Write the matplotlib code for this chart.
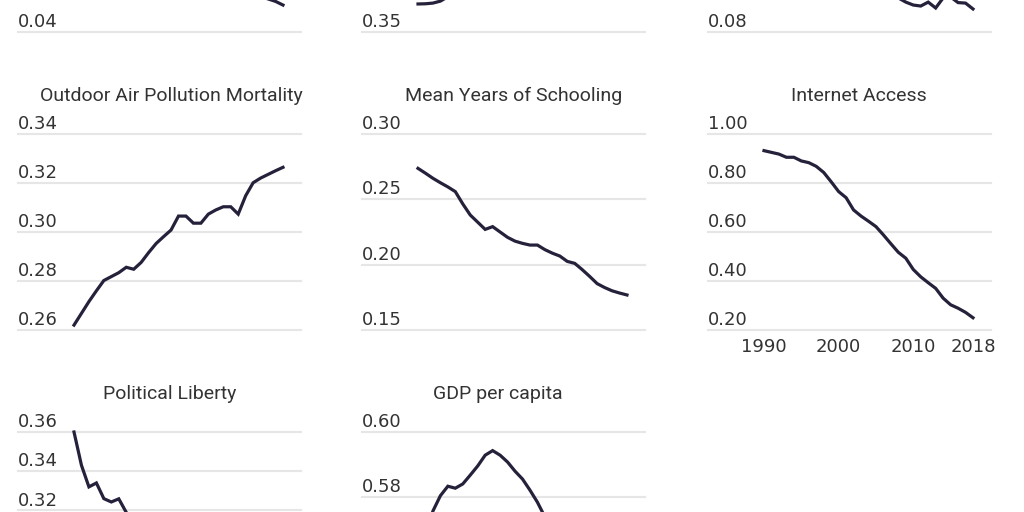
import matplotlib
matplotlib.use('Agg')
import matplotlib.pyplot as plt

years = list(range(1990, 2019))

# top row (only the bottom strip is inside the picture)
top_left = [0.112, 0.110, 0.108, 0.109, 0.106, 0.104, 0.101, 0.099, 0.097, 0.094,
            0.092, 0.089, 0.087, 0.084, 0.081, 0.079, 0.076, 0.074, 0.071, 0.069,
            0.066, 0.064, 0.062, 0.060, 0.058, 0.056, 0.0535, 0.0525, 0.0510]
top_mid = [0.3786, 0.3788, 0.3795, 0.3815, 0.386, 0.395, 0.41, 0.425, 0.44, 0.45,
           0.46, 0.47, 0.475, 0.48, 0.49, 0.495, 0.50, 0.505, 0.51, 0.505,
           0.50, 0.505, 0.51, 0.515, 0.52, 0.525, 0.52, 0.525, 0.53]
top_right = [0.150, 0.148, 0.145, 0.143, 0.140, 0.137, 0.134, 0.131, 0.127, 0.124,
             0.121, 0.118, 0.115, 0.112, 0.109, 0.105, 0.101, 0.0963, 0.0939, 0.0922,
             0.0910, 0.0906, 0.0922, 0.0898, 0.0939, 0.0943, 0.0920, 0.0918, 0.0894]

air_pollution = [0.2620, 0.2668, 0.2716, 0.2760, 0.2802, 0.2818, 0.2834, 0.2856, 0.2848, 0.2876,
                 0.2916, 0.2953, 0.2981, 0.3008, 0.3065, 0.3065, 0.3036, 0.3036, 0.3073, 0.3090,
                 0.3103, 0.3103, 0.3073, 0.3148, 0.3201, 0.3220, 0.3235, 0.3250, 0.3264]
schooling = [0.2737, 0.2700, 0.2661, 0.2627, 0.2595, 0.2559, 0.2465, 0.2380, 0.2325, 0.2270,
             0.2291, 0.2250, 0.2209, 0.2180, 0.2163, 0.2150, 0.2150, 0.2115, 0.2088, 0.2066,
             0.2025, 0.2010, 0.1962, 0.1910, 0.1855, 0.1825, 0.1800, 0.1783, 0.1768]
internet = [0.932, 0.925, 0.918, 0.905, 0.905, 0.890, 0.883, 0.868, 0.843, 0.805,
            0.765, 0.740, 0.690, 0.665, 0.644, 0.622, 0.588, 0.552, 0.517, 0.493,
            0.447, 0.417, 0.393, 0.370, 0.330, 0.303, 0.289, 0.272, 0.250]
liberty = [0.360, 0.343, 0.332, 0.334, 0.326, 0.3243, 0.3259, 0.319, 0.312, 0.306,
           0.301, 0.298, 0.295, 0.292, 0.290, 0.288, 0.287, 0.285, 0.284, 0.283,
           0.282, 0.281, 0.280, 0.279, 0.278, 0.277, 0.276, 0.275, 0.274]
gdp = [0.560, 0.568, 0.5758, 0.5805, 0.5834, 0.5828, 0.5841, 0.5868, 0.5896, 0.5929,
       0.5943, 0.5929, 0.5908, 0.5880, 0.5856, 0.5822, 0.5785, 0.574, 0.570, 0.566,
       0.563, 0.560, 0.558, 0.556, 0.554, 0.552, 0.551, 0.550, 0.549]

year_ticks = [1990, 2000, 2010, 2018]

# (title, values, y ticks, column, row, title offset px)
panels = [
    (None, top_left, [0.04, 0.06, 0.08, 0.10, 0.12], 0, 0, 152),
    (None, top_mid, [0.35, 0.40, 0.45, 0.50, 0.55], 1, 0, 152),
    (None, top_right, [0.08, 0.10, 0.12, 0.14, 0.16], 2, 0, 152),
    ('Outdoor Air Pollution Mortality', air_pollution, [0.26, 0.28, 0.30, 0.32, 0.34], 0, 1, 153),
    ('Mean Years of Schooling', schooling, [0.15, 0.20, 0.25, 0.30], 1, 1, 151.5),
    ('Internet Access', internet, [0.20, 0.40, 0.60, 0.80, 1.00], 2, 1, 150.5),
    ('Political Liberty', liberty, [0.26, 0.28, 0.30, 0.32, 0.34, 0.36], 0, 2, 151.5),
    ('GDP per capita', gdp, [0.54, 0.56, 0.58, 0.60], 1, 2, 136),
]
bottom_of_col = {0: 6, 1: 7, 2: 5}

W, H = 1024, 512
col_x = [18, 362, 708]
row_y = [-164, 134, 432]
pw, ph = 283, 196
px_per_year = 7.464

line_col = '#25213b'
text_col = '#333333'
grid_col = '#e6e6e6'
num_font = 'DejaVu Sans'
title_font = 'Roboto'

fig = plt.figure(figsize=(W / 100, H / 100), dpi=100)

for i, (title, vals, ticks, c, r, toff) in enumerate(panels):
    ax = fig.add_axes([col_x[c] / W, 1 - (row_y[r] + ph) / H, pw / W, ph / H])
    ax.set_xlim(1990 - 56 / px_per_year, 1990 + (pw - 56) / px_per_year)
    ax.set_ylim(ticks[0], ticks[-1])
    ax.axis('off')
    for t in ticks:
        ax.axhline(t, color=grid_col, lw=1.5, clip_on=False, zorder=1)
        ax.annotate('%.2f' % t, xy=(0, t), xycoords=('axes fraction', 'data'),
                    xytext=(0, 3.5), textcoords='offset points', ha='left', va='baseline',
                    fontsize=13, color=text_col, family=num_font, annotation_clip=False)
    ax.plot(years, vals, color=line_col, lw=2.3, clip_on=False, zorder=3,
            solid_joinstyle='miter')
    if title:
        ax.annotate(title, xy=(toff / pw, 1), xycoords='axes fraction',
                    xytext=(0, 24), textcoords='offset points', ha='center', va='baseline',
                    fontsize=14, color=text_col, family=title_font, annotation_clip=False)
    if bottom_of_col[c] == i:
        for y in year_ticks:
            ax.annotate(str(y), xy=(y, 0), xycoords=('data', 'axes fraction'),
                        xytext=(0, -16), textcoords='offset points', ha='center', va='baseline',
                        fontsize=13, color=text_col, family=num_font, annotation_clip=False)

fig.savefig('out.png', dpi=100)
